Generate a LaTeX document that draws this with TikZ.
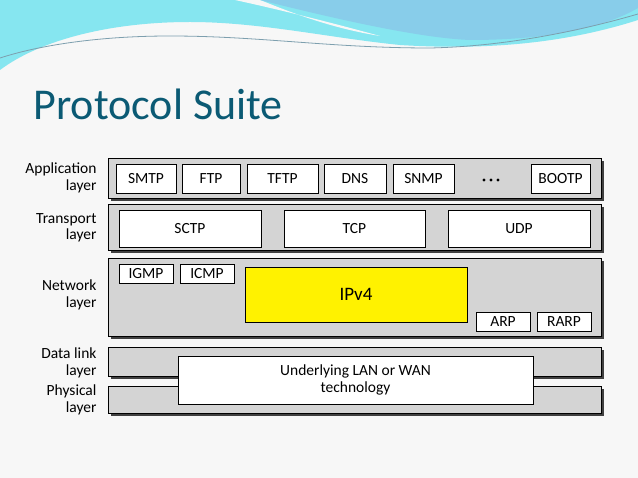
\documentclass[tikz,border=0pt]{standalone}
\usepackage{fontspec}
\setmainfont{Carlito}
\definecolor{titlec}{HTML}{0B5A74}
\definecolor{wavea}{HTML}{86E6F0}
\definecolor{waveb}{HTML}{88CDEA}
\begin{document}
\begin{tikzpicture}[x=1pt,y=-1pt,
 band/.style={draw=black,fill=black!17,line width=0.6pt},
 shadow/.style={fill=black!75},
 pbox/.style={draw=black,fill=white,line width=0.6pt},
 lbl/.style={anchor=east,align=right,font=\fontsize{15.5}{16.5}\selectfont},
 txt/.style={font=\fontsize{15.5}{17}\selectfont}]
\useasboundingbox (0,0) rectangle (638,478);
\fill[white!97!black] (0,0) rectangle (638,478);
% header waves
\fill[wavea] (0,0) -- (638,0) -- (638,20) .. controls (560,45) and (480,50) .. (400,45) .. controls (330,38) and (260,22) .. (190,22) .. controls (110,22) and (40,40) .. (0,70) -- cycle;
\fill[white!97!black] (235,0) .. controls (290,12) and (340,25) .. (380,36) .. controls (330,28) and (290,12) .. (260,0) -- cycle;
\fill[waveb] (260,0) -- (638,0) -- (638,8) .. controls (600,30) and (540,40) .. (470,40) .. controls (420,38) and (340,20) .. (260,0) -- cycle;
\draw[cyan!30!gray,line width=0.8pt] (0,58) .. controls (40,45) and (100,36) .. (170,36) .. controls (260,36) and (330,48) .. (430,48) .. controls (520,46) and (600,25) .. (638,14);
\node[anchor=base west,text=titlec,font=\fontsize{44}{48}\selectfont] (title) at (30,120) {Protocol Suite};
% bands
\foreach \n/\y/\h in {app/158/40,tr/204/46,net/258/78,dl/347/29,ph/386/27}{
 \fill[shadow] (111,\y+3) rectangle (604,\y+\h+3);
 \draw[band] (108,\y) rectangle (601,\y+\h);
}
% labels
\node[lbl] (lapp) at (100,178) {Application\\layer};
\node[lbl] (ltr) at (100,228) {Transport\\layer};
\node[lbl] (lnet) at (100,295) {Network\\layer};
\node[lbl] (ldl) at (100,363) {Data link\\layer};
\node[lbl] (lph) at (100,400) {Physical\\layer};
% app boxes
\foreach \nm/\a/\b in {SMTP/116/176,FTP/182/240,TFTP/247/318,DNS/324/386,SNMP/393/454,BOOTP/531/590}{
 \draw[pbox] (\a,164) rectangle (\b,193);
 \node[txt] (\nm) at ({(\a+\b)/2},178.5) {\nm};
}
\foreach \i/\xx in {1/484,2/491,3/498}{\fill (\xx,180) circle (1.7);}
\foreach \nm/\a/\b in {SCTP/119/261,TCP/284/425,UDP/448/590}{
 \draw[pbox] (\a,210) rectangle (\b,247);
 \node[txt] (\nm) at ({(\a+\b)/2},228.5) {\nm};
}
\foreach \nm/\a/\b in {IGMP/119/173,ICMP/180/234}{
 \draw[pbox] (\a,264) rectangle (\b,283);
 \node[txt] (\nm) at ({(\a+\b)/2},273.5) {\nm};
}
\foreach \nm/\a/\b in {ARP/476/530,RARP/537/591}{
 \draw[pbox] (\a,312) rectangle (\b,331);
 \node[txt] (\nm) at ({(\a+\b)/2},321.5) {\nm};
}
\draw[draw=black,fill=yellow,line width=0.6pt] (245,267) rectangle (467,322);
\node[font=\fontsize{19}{20}\selectfont] (ipv4) at (356,294.5) {IPv4};
\draw[pbox] (178,356) rectangle (533,404);
\node[txt,align=center] (lan) at (355.5,380) {Underlying LAN or WAN\\technology};
\end{tikzpicture}
\end{document}
